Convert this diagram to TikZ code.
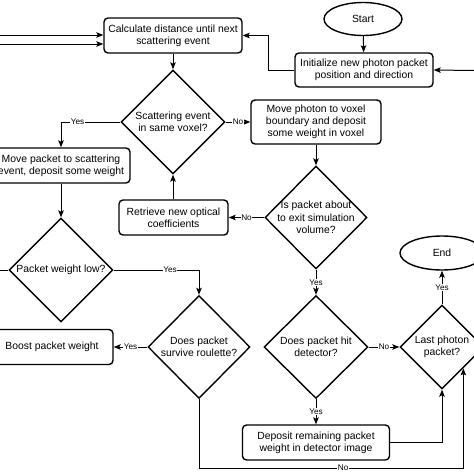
\documentclass[tikz,border=0pt]{standalone}
\usepackage{fontspec}
\setmainfont{Liberation Sans}
\usetikzlibrary{shapes.geometric,arrows.meta,calc}
\begin{document}
\begin{tikzpicture}[x=1pt,y=-1pt,
  every node/.style={font=\fontsize{10.4}{12.3}\selectfont},
  box/.style={draw,line width=1.4pt,rounded corners=4pt,align=center,inner sep=0pt},
  dia/.style={draw,diamond,line width=1.4pt,inner sep=0pt,aspect=1},
  term/.style={draw,ellipse,line width=1.4pt,inner sep=0pt},
  txt/.style={align=center,inner sep=0pt},
  lab/.style={fill=white,inner sep=0.6pt,font=\fontsize{8.2}{9}\selectfont},
  arr/.style={line width=1pt,-{Stealth[length=7pt,width=5.5pt,inset=1.4pt]}},
  ln/.style={line width=1pt}
]
\useasboundingbox (0,0) rectangle (474,474);
\clip (0,0) rectangle (474,474);

% nodes
\node[term,minimum width=78pt,minimum height=33pt] (start) at (363,19) {Start};
\node[box,minimum width=138pt,minimum height=35pt] (calc) at (173,35.5) {Calculate distance until next\\scattering event};
\node[box,minimum width=138pt,minimum height=34pt] (init) at (364,70) {Initialize new photon packet\\position and direction};
\node[dia,minimum width=104pt,minimum height=104pt,label={[txt]center:{Scattering event\\in same voxel?}}] (sc) at (173,122) {};
\node[box,minimum width=138pt,minimum height=35pt] (mpk) at (61,165.5) {Move packet to scattering\\event, deposit some weight};
\node[box,minimum width=130pt,minimum height=44pt] (mph) at (316,122) {Move photon to voxel\\boundary and deposit\\some weight in voxel};
\node[dia,minimum width=102pt,minimum height=103pt,label={[txt]center:{Is packet about\\to exit simulation\\volume?}}] (ip) at (316,217.5) {};
\node[box,minimum width=109pt,minimum height=35pt] (ret) at (173.5,217.5) {Retrieve new optical\\coefficients};
\node[dia,minimum width=104pt,minimum height=104pt,label={[txt]center:{Packet weight low?}}] (pwl) at (61,270) {};
\node[dia,minimum width=102pt,minimum height=103pt,label={[txt]center:{Does packet\\survive roulette?}}] (rou) at (199,347) {};
\node[box,minimum width=122pt,minimum height=35pt] (boost) at (52,347) {Boost packet weight};
\node[dia,minimum width=104pt,minimum height=103pt,label={[txt]center:{Does packet hit\\detector?}}] (hd) at (316,347) {};
\node[box,minimum width=147pt,minimum height=35pt] (dep) at (316,442.5) {Deposit remaining packet\\weight in detector image};
\node[dia,minimum width=84pt,minimum height=84pt,label={[txt]center:{Last photon\\packet?}}] (lp) at (442,347) {};
\node[term,minimum width=84pt,minimum height=34pt] (end) at (442,253) {End};

% free ends
\coordinate (l1) at (0,35);
\coordinate (l2) at (0,44);
\coordinate (l3) at (0,270);
\coordinate (rin) at (474,70.5);
\coordinate (bot) at (0,468);

% connectors
\draw[arr] (start) -- (init);
\draw[arr] (init.west) -- ++(-26,0) |- (calc.east);
\draw[arr] (rin) -- (init.east);
\draw[arr] (l1) -- (l1 -| calc.west);
\draw[arr] (l2) -- (l2 -| calc.west);
\draw[arr] (calc) -- (sc);
\draw[arr] (sc.west) -- node[lab,pos=0.72]{Yes} (sc.west -| mpk.north) -- (mpk.north);
\draw[arr] (sc.east) -- node[lab]{No} (mph.west);
\draw[arr] (mph) -- (ip);
\draw[arr] (ip.west) -- node[lab]{No} (ret.east);
\draw[arr] (sc.south |- ret.north) -- (sc.south);
\draw[arr] (mpk) -- (pwl);
\draw[ln] (pwl.west) -- (l3);
\draw[arr] (pwl.east) -- node[lab,pos=0.66]{Yes} (pwl.east -| rou.north) -- (rou.north);
\draw[arr] (rou.west) -- node[lab]{Yes} (boost.east);
\draw[arr] (ip) -- node[lab]{Yes} (hd);
\draw[arr] (hd) -- node[lab]{No} (lp);
\draw[arr] (hd) -- node[lab]{Yes} (dep);
\draw[arr] (dep.east) -| (lp.south);
\draw[arr] (lp) -- node[lab]{Yes} (end);
\draw[arr] (rou.south) -- (rou.south |- bot) -- node[lab,pos=0.545]{No} (lp.south east |- bot) -- (lp.south east);
\end{tikzpicture}
\end{document}
